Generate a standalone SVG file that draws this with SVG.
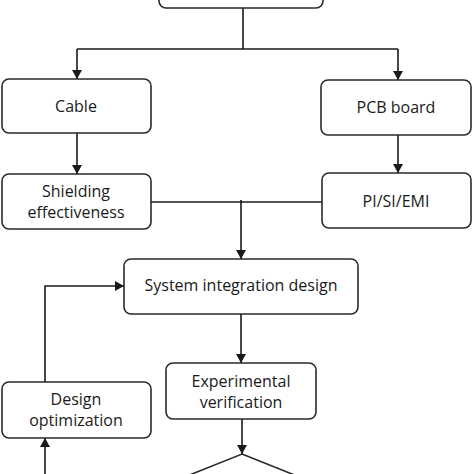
<svg xmlns="http://www.w3.org/2000/svg" width="474" height="474" viewBox="0 0 474 474">
<defs>
<marker id="ah" markerWidth="9" markerHeight="10" refX="9" refY="5" orient="auto" markerUnits="userSpaceOnUse">
<path d="M0,0 L9,5 L0,10 Z" fill="#1a1a1a"/>
</marker>
<style>
.box{fill:#fff;stroke:#2a2a2a;stroke-width:1.6}
.ln{fill:none;stroke:#1a1a1a;stroke-width:1.6}
.t{font-family:"Open Sans","Liberation Sans",sans-serif;font-size:16px;fill:#1a1a1a;text-anchor:middle}
</style>
</defs>
<rect width="474" height="474" fill="#fff"/>
<g id="connectors">
<path class="ln" d="M243,8 V49"/>
<path class="ln" d="M77,49 H398"/>
<path class="ln" d="M77,49 V79" marker-end="url(#ah)"/>
<path class="ln" d="M398,49 V80" marker-end="url(#ah)"/>
<path class="ln" d="M77,133 V174" marker-end="url(#ah)"/>
<path class="ln" d="M398,135 V173" marker-end="url(#ah)"/>
<path class="ln" d="M151,202 H322"/>
<path class="ln" d="M241,200 V259" marker-end="url(#ah)"/>
<path class="ln" d="M241,314 V363" marker-end="url(#ah)"/>
<path class="ln" d="M242,419 V454" marker-end="url(#ah)"/>
<path class="ln" d="M45,382 V286 H124" marker-end="url(#ah)"/>
<path class="ln" d="M45,474 V438" marker-end="url(#ah)"/>
</g>
<g id="top"><rect class="box" x="159" y="-20" width="164" height="28" rx="7"/></g>
<g id="cable"><rect class="box" x="2" y="79" width="149" height="54" rx="7"/><text class="t" x="76" y="112">Cable</text></g>
<g id="pcb"><rect class="box" x="321" y="80" width="150" height="55" rx="7"/><text class="t" x="396" y="113">PCB board</text></g>
<g id="shielding"><rect class="box" x="2" y="174" width="149" height="55" rx="7"/><text class="t" x="76" y="197">Shielding</text><text class="t" x="76" y="218">effectiveness</text></g>
<g id="pisiemi"><rect class="box" x="322" y="173" width="149" height="55" rx="7"/><text class="t" x="396" y="207">PI/SI/EMI</text></g>
<g id="sysint"><rect class="box" x="124" y="259" width="234" height="55" rx="7"/><text class="t" x="241" y="291">System integration design</text></g>
<g id="expver"><rect class="box" x="166" y="363" width="150" height="56" rx="7"/><text class="t" x="241" y="387">Experimental</text><text class="t" x="241" y="408">verification</text></g>
<g id="designopt"><rect class="box" x="2" y="382" width="149" height="56" rx="7"/><text class="t" x="76" y="405">Design</text><text class="t" x="76" y="426">optimization</text></g>
<g id="decision"><polygon class="box" points="242,454 317,484 242,514 167,484"/></g>
</svg>
